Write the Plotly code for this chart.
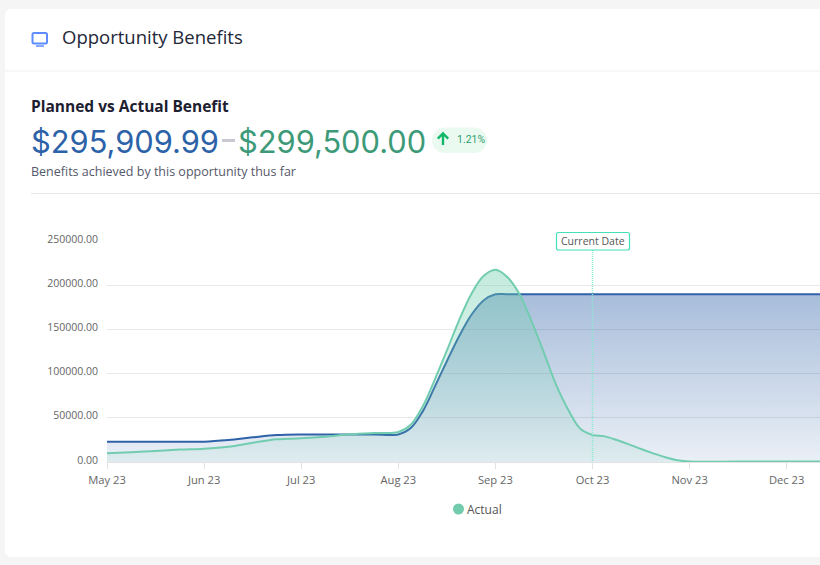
import plotly.graph_objects as go

W, H = 820, 565

# months since May 23: quarter months, eighths on the steep part
months = ['May 23', 'Jun 23', 'Jul 23', 'Aug 23', 'Sep 23', 'Oct 23', 'Nov 23', 'Dec 23']
month_pos = [0, 1, 2, 3, 4, 5, 6, 7]
current_month = 5

x_steps = [0, 0.25, 0.5, 0.75, 1, 1.25, 1.5, 1.75, 2, 2.25, 2.5, 2.75,
           3, 3.125, 3.25, 3.375, 3.5, 3.625, 3.75, 3.875,
           4, 4.125, 4.25, 4.375, 4.5, 4.625, 4.75, 4.875,
           5, 5.125, 5.25, 5.375, 5.5, 5.625, 5.75, 5.875,
           6, 6.5, 7, 7.5, 8]
planned = [23000, 23000, 23000, 23000, 23000, 24900, 27900, 30500, 31200, 31200, 31200, 31200,
           31200, 38100, 57000, 85000, 114000, 142000, 166000, 182500,
           189700, 189700, 189700, 189700, 189700, 189700, 189700, 189700,
           189700, 189700, 189700, 189700, 189700, 189700, 189700, 189700,
           189700, 189700, 189700, 189700, 189700]
actual = [9800, 11000, 12500, 14000, 15000, 17300, 21800, 25700, 26800, 28600, 31300, 32800,
          33900, 41800, 62500, 93000, 126000, 160000, 189500, 210000,
          217500, 209000, 189500, 158500, 123500, 87500, 59000, 37500,
          30500, 29000, 24900, 20000, 14700, 9800, 5300, 1900,
          500, 500, 500, 500, 500]


def px(x):
    return x / W


def py(y):
    return 1 - y / H


def rounded(x0, y0, x1, y1, r):
    # rounded box as an svg path in paper coordinates
    k = r * 0.45
    pts = [('M', x0 + r, y0), ('L', x1 - r, y0), ('C', x1 - k, y0, x1, y0 + k, x1, y0 + r),
           ('L', x1, y1 - r), ('C', x1, y1 - k, x1 - k, y1, x1 - r, y1),
           ('L', x0 + r, y1), ('C', x0 + k, y1, x0, y1 - k, x0, y1 - r),
           ('L', x0, y0 + r), ('C', x0, y0 + k, x0 + k, y0, x0 + r, y0)]
    out = ''
    for p in pts:
        vals = p[1:]
        coords = [f'{px(vals[i])},{py(vals[i + 1])}' for i in range(0, len(vals), 2)]
        out += p[0] + ' '.join(coords) + ' '
    return out + 'Z'


fig = go.Figure()
fig.add_trace(go.Scatter(x=x_steps, y=planned, name='Planned', mode='lines', showlegend=False, cliponaxis=False,
                         line=dict(color='#2f62a8', width=2, shape='spline', smoothing=1),
                         fill='tozeroy', fillcolor='rgba(47,98,168,0.25)',
                         fillgradient=dict(type='vertical',
                                           colorscale=[[0, 'rgba(47,98,168,0.10)'], [1, 'rgba(47,98,168,0.42)']])))
fig.add_trace(go.Scatter(x=x_steps, y=actual, name='Actual', mode='lines', showlegend=False, cliponaxis=False,
                         line=dict(color='#72cdb0', width=2, shape='spline', smoothing=1),
                         fill='tozeroy', fillcolor='rgba(114,205,176,0.25)',
                         fillgradient=dict(type='vertical',
                                           colorscale=[[0, 'rgba(114,205,176,0.10)'], [1, 'rgba(114,205,176,0.42)']])))
# legend text only, its round swatch sits closer than plotly allows so it is a shape below
fig.add_trace(go.Scatter(x=[None], y=[None], name='Actual', mode='markers',
                         marker=dict(color='rgba(0,0,0,0)', size=11)))

arrow = f'M{px(443)},{py(145)} L{px(443)},{py(133.5)} M{px(437.8)},{py(138.7)} L{px(443)},{py(133.5)} L{px(448.2)},{py(138.7)}'

shapes = [
    dict(type='path', path=rounded(5, 9, 860, 557, 6), fillcolor='white', line_width=0, layer='below'),
    dict(type='line', x0=px(5), x1=1, y0=py(71), y1=py(71), line=dict(color='#eeeff2', width=1), layer='below'),
    dict(type='line', x0=px(31), x1=1, y0=py(193.5), y1=py(193.5), line=dict(color='#e6e7ea', width=1), layer='below'),
    # monitor icon
    dict(type='path', path=rounded(32.5, 33, 47, 43.5, 1.5), fillcolor='rgba(0,0,0,0)', line=dict(color='#5f8dff', width=2)),
    dict(type='line', x0=px(36), x1=px(44), y0=py(46), y1=py(46), line=dict(color='#5f8dff', width=1.5)),
    # range dash and badge
    dict(type='line', x0=px(222), x1=px(235), y0=py(140.5), y1=py(140.5), line=dict(color='#c8c8d2', width=3)),
    dict(type='path', path=rounded(432, 127.5, 487, 153, 12.5), fillcolor='#ebfaf1', line_width=0),
    dict(type='path', path=arrow, line=dict(color='#12b76a', width=2.4)),
    # legend swatch
    dict(type='circle', x0=px(453), x1=px(464), y0=py(503.5), y1=py(514.5), fillcolor='#72cbad', line_width=0),
    # current date marker
    dict(type='line', x0=current_month, x1=current_month, y0=py(250), y1=py(461.5),
         line=dict(color='#8ce8d0', width=1.5, dash='1px,1px')),
    dict(type='path', path=rounded(556.5, 232.5, 629.5, 250, 2), fillcolor='white', line=dict(color='#45e0b8', width=1.2)),
]
for s in shapes:
    s.update(xref='paper', yref='paper')
shapes[9].update(xref='x')

annotations = [
    dict(x=px(60), y=py(36), text='Opportunity Benefits', font=dict(size=18.5, color='#232738', family='Open Sans')),
    dict(x=px(29), y=py(106), text='<b>Planned vs Actual Benefit</b>', font=dict(size=15.5, color='#1d2030', family='Open Sans')),
    dict(x=px(29), y=py(141), text='$295,909.99', font=dict(size=30.8, color='#2c62a8', family='Inter')),
    dict(x=px(236), y=py(141), text='$299,500.00', font=dict(size=30.8, color='#3d9a78', family='Inter')),
    dict(x=px(455), y=py(140), text='1.21%', font=dict(size=10.5, color='#2f9e6e', family='Roboto')),
    dict(x=px(29), y=py(172), text='Benefits achieved by this opportunity thus far', font=dict(size=12.5, color='#55586a', family='Open Sans')),
    dict(x=px(593), y=py(241.5), text='Current Date', xanchor='center', font=dict(size=10.5, color='#555', family='Open Sans')),
]
for a in annotations:
    a.update(xref='paper', yref='paper', showarrow=False, yanchor='middle', xanchor=a.get('xanchor', 'left'))

fig.update_layout(width=W, height=H, margin=dict(l=0, r=0, t=0, b=0, autoexpand=False),
                  paper_bgcolor='#f5f5f6', plot_bgcolor='rgba(0,0,0,0)',
                  font=dict(family='Open Sans', color='#666'),
                  shapes=shapes, annotations=annotations,
                  legend=dict(x=px(427), y=py(509), xanchor='left', yanchor='middle', orientation='h',
                              bgcolor='rgba(0,0,0,0)', font=dict(size=12, color='#555'), itemwidth=30))
fig.update_xaxes(domain=[px(107), 1], range=[0, 7.343], tickmode='array', tickvals=month_pos, ticktext=months,
                 ticks='outside', ticklen=6, tickcolor='#e2e2e2', tickfont=dict(size=11.2, color='#666'),
                 showgrid=False, showline=True, linecolor='#e2e2e2', zeroline=False, ticklabelstandoff=2,
                 layer='below traces')
fig.update_yaxes(domain=[py(462), py(241)], range=[0, 250000], tickvals=[0, 50000, 100000, 150000, 200000, 250000],
                 tickformat='.2f', gridcolor='#e8e8e8', zeroline=False, showline=False,
                 tickfont=dict(size=10.5, color='#666'), ticks='', ticklabelstandoff=8, ticklabelshift=-2)

fig.write_html("out.html", config=dict(displayModeBar=False),
               post_script="document.body.style.margin='0';document.body.style.overflow='hidden';")
